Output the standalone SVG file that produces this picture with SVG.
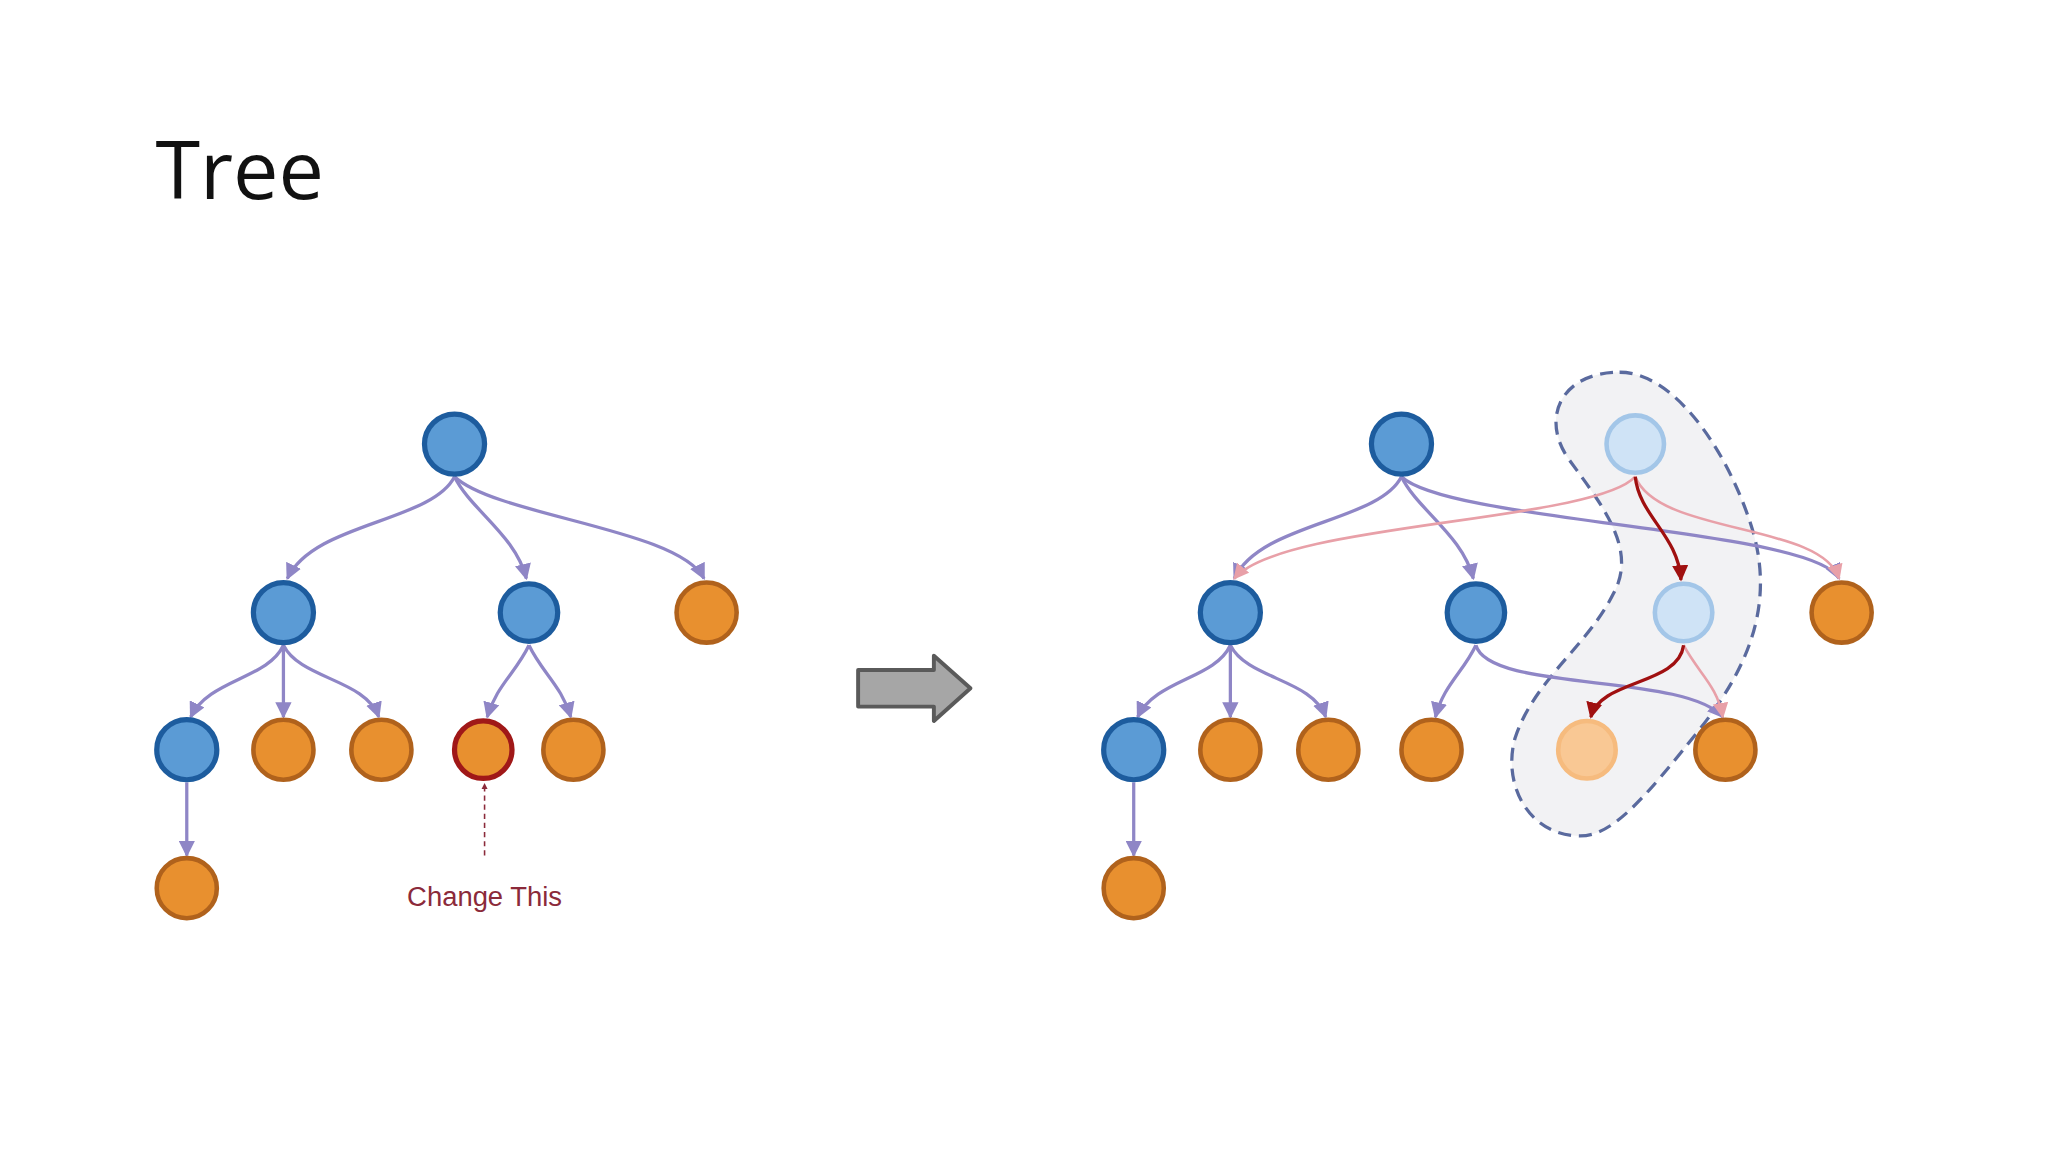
<svg xmlns="http://www.w3.org/2000/svg" width="2048" height="1152" viewBox="0 0 2048 1152">
<defs>
<style>
.b{fill:#5b9bd5;stroke:#1d5c9e;stroke-width:4}
.o{fill:#e8902f;stroke:#b0621c;stroke-width:3.5}
.fb{fill:#cfe3f6;stroke:#a3c6e8;stroke-width:3.5}
.fo{fill:#f9c894;stroke:#f6bb7e;stroke-width:3.5}
.e{fill:none;stroke:#8f86c6;stroke-width:2.5;marker-end:url(#ap)}
.p{fill:none;stroke:#e8a0a8;stroke-width:2;marker-end:url(#apk)}
.r{fill:none;stroke:#a01010;stroke-width:2.5;marker-end:url(#ar)}
</style>
<marker id="ap" viewBox="0 0 10 10" refX="9" refY="5" markerWidth="5" markerHeight="5" orient="auto"><path d="M0,0 L10,5 L0,10 z" fill="#8f86c6"/></marker>
<marker id="apk" viewBox="0 0 10 10" refX="9" refY="5" markerWidth="6" markerHeight="6" orient="auto"><path d="M0,0 L10,5 L0,10 z" fill="#e8a0a8"/></marker>
<marker id="ar" viewBox="0 0 10 10" refX="9" refY="5" markerWidth="5" markerHeight="5" orient="auto"><path d="M0,0 L10,5 L0,10 z" fill="#a01010"/></marker>
<marker id="ad" viewBox="0 0 10 10" refX="9" refY="5" markerWidth="4" markerHeight="4" orient="auto"><path d="M0,0 L10,5 L0,10 z" fill="#8b2a3a"/></marker>
</defs>
<rect width="2048" height="1152" fill="#ffffff"/>
<g transform="scale(1.30612)">
<text x="119" y="152" font-family="'Open Sans','Liberation Sans',sans-serif" font-size="62" fill="#111">Tree</text>

<path id="blob" d="M1240,285 C1280,285 1320,340 1340,400 C1360,460 1340,510 1300,560 C1260,610 1235,640 1210,640 C1170,640 1150,600 1160,565 C1175,520 1215,495 1235,455 C1255,420 1225,385 1200,350 C1180,320 1195,285 1240,285 Z" fill="#f2f2f4" stroke="#5a6a9e" stroke-width="2.5" stroke-dasharray="10,6"/>

<g id="connectors">
<path class="e" d="M348,365 C330,400 240,400 220,443"/>
<path class="e" d="M348,365 C360,390 395,410 403,443"/>
<path class="e" d="M348,365 C380,395 520,405 539,443"/>
<path class="e" d="M217,494 C205,520 160,520 146,549"/>
<path class="e" d="M217,494 L217,549"/>
<path class="e" d="M217,494 C230,520 280,520 290,549"/>
<path class="e" d="M405,494 C395,515 380,525 373,549"/>
<path class="e" d="M405,494 C415,515 430,525 437,549"/>
<path class="e" d="M143,599 L143,655"/>
<path d="M371,655 L371,600" fill="none" stroke="#8b2a3a" stroke-width="1.2" stroke-dasharray="4,3" marker-end="url(#ad)"/>

<path class="e" d="M1073,365 C1055,400 965,400 945,443"/>
<path class="e" d="M1073,365 C1085,390 1120,410 1128,443"/>
<path class="e" d="M1073,365 C1110,400 1390,405 1408,443"/>
<path class="e" d="M942,494 C930,520 885,520 871,549"/>
<path class="e" d="M942,494 L942,549"/>
<path class="e" d="M942,494 C955,520 1005,520 1015,549"/>
<path class="e" d="M1130,494 C1120,515 1105,525 1099,549"/>
<path class="e" d="M1130,494 C1140,530 1290,515 1319,549"/>
<path class="e" d="M868,599 L868,655"/>
<path class="p" d="M1252,365 C1220,400 980,400 945,443"/>
<path class="p" d="M1252,365 C1270,410 1395,400 1408,443"/>
<path class="p" d="M1289,494 C1300,515 1315,525 1319,549"/>
<path class="r" d="M1252,365 C1255,395 1285,410 1287,444"/>
<path class="r" d="M1289,494 C1285,525 1225,520 1218,549"/>
</g>

<g id="n1"><circle class="b" cx="348" cy="340" r="23"/></g>
<g id="n2"><circle class="b" cx="217" cy="469" r="23"/></g>
<g id="n3"><circle class="b" cx="405" cy="469" r="22"/></g>
<g id="n4"><circle class="o" cx="541" cy="469" r="23"/></g>
<g id="n5"><circle class="b" cx="143" cy="574" r="23"/></g>
<g id="n6"><circle class="o" cx="217" cy="574" r="23"/></g>
<g id="n7"><circle class="o" cx="292" cy="574" r="23"/></g>
<g id="n8"><circle cx="370" cy="574" r="22" fill="#e8902f" stroke="#a01818" stroke-width="4"/></g>
<g id="n9"><circle class="o" cx="439" cy="574" r="23"/></g>
<g id="n10"><circle class="o" cx="143" cy="680" r="23"/></g>
<g id="label"><text x="371" y="694" text-anchor="middle" font-family="'Liberation Sans',Arial,sans-serif" font-size="21" fill="#8b2a3a">Change This</text></g>

<g id="bigarrow"><path d="M657,513 L715,513 L715,502 L743,527 L715,552 L715,541 L657,541 Z" fill="#a6a6a6" stroke="#5a5a5a" stroke-width="3" stroke-linejoin="round"/></g>

<g id="m1"><circle class="b" cx="1073" cy="340" r="23"/></g>
<g id="m2"><circle class="fb" cx="1252" cy="340" r="22"/></g>
<g id="m3"><circle class="b" cx="942" cy="469" r="23"/></g>
<g id="m4"><circle class="b" cx="1130" cy="469" r="22"/></g>
<g id="m5"><circle class="fb" cx="1289" cy="469" r="22"/></g>
<g id="m6"><circle class="o" cx="1410" cy="469" r="23"/></g>
<g id="m7"><circle class="b" cx="868" cy="574" r="23"/></g>
<g id="m8"><circle class="o" cx="942" cy="574" r="23"/></g>
<g id="m9"><circle class="o" cx="1017" cy="574" r="23"/></g>
<g id="m10"><circle class="o" cx="1096" cy="574" r="23"/></g>
<g id="m11"><circle class="fo" cx="1215" cy="574" r="22"/></g>
<g id="m12"><circle class="o" cx="1321" cy="574" r="23"/></g>
<g id="m13"><circle class="o" cx="868" cy="680" r="23"/></g>
</g>
</svg>
